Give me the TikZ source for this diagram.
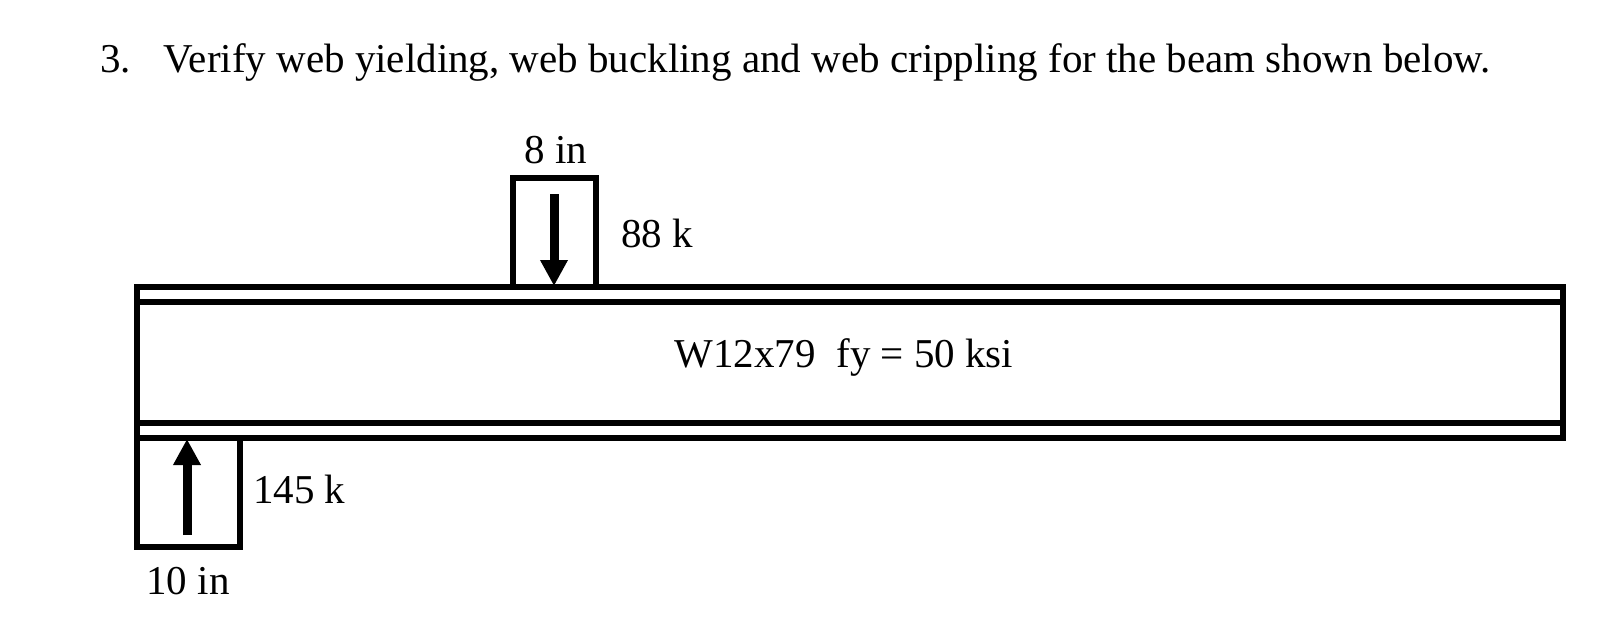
\documentclass[tikz,border=0pt]{standalone}
\usepackage{fontspec}
\setmainfont{Liberation Serif}
\usetikzlibrary{arrows.meta}
\begin{document}
\begin{tikzpicture}[x=1pt,y=-1pt,
  thick line/.style={line width=5.5pt},
  lbl/.style={inner sep=0pt,font=\fontsize{41}{48}\selectfont},
  force/.style={line width=9pt,-{Triangle[width=26pt,length=26pt]}}]
\useasboundingbox (0,0) rectangle (1618,634);
\node[lbl,anchor=west] (title) at (100,62) {3.\hspace{0.8em}Verify web yielding, web buckling and web crippling for the beam shown below.};
% beam
\draw[thick line] (137,287) rectangle (1563,438);
\draw[thick line] (137,302) -- (1563,302);
\draw[thick line] (137,423) -- (1563,423);
\node[lbl] (beam) at (844,357) {W12x79\hspace{0.5em}fy = 50 ksi};
% top load
\draw[thick line] (513,287) -- (513,178) -- (596,178) -- (596,287);
\coordinate (t1) at (554,194);
\coordinate (t2) at (554,286);
\draw[force] (t1) -- (t2);
\node[lbl] (w8) at (556,150) {8 in};
\node[lbl,anchor=west] (p88) at (621,233) {88 k};
% bottom support
\draw[thick line] (137,438) -- (137,547) -- (240,547) -- (240,438);
\coordinate (b1) at (187,535);
\coordinate (b2) at (187,439);
\draw[force] (b1) -- (b2);
\node[lbl,anchor=west] (p145) at (253,489) {145 k};
\node[lbl] (w10) at (188,581) {10 in};
\end{tikzpicture}
\end{document}
